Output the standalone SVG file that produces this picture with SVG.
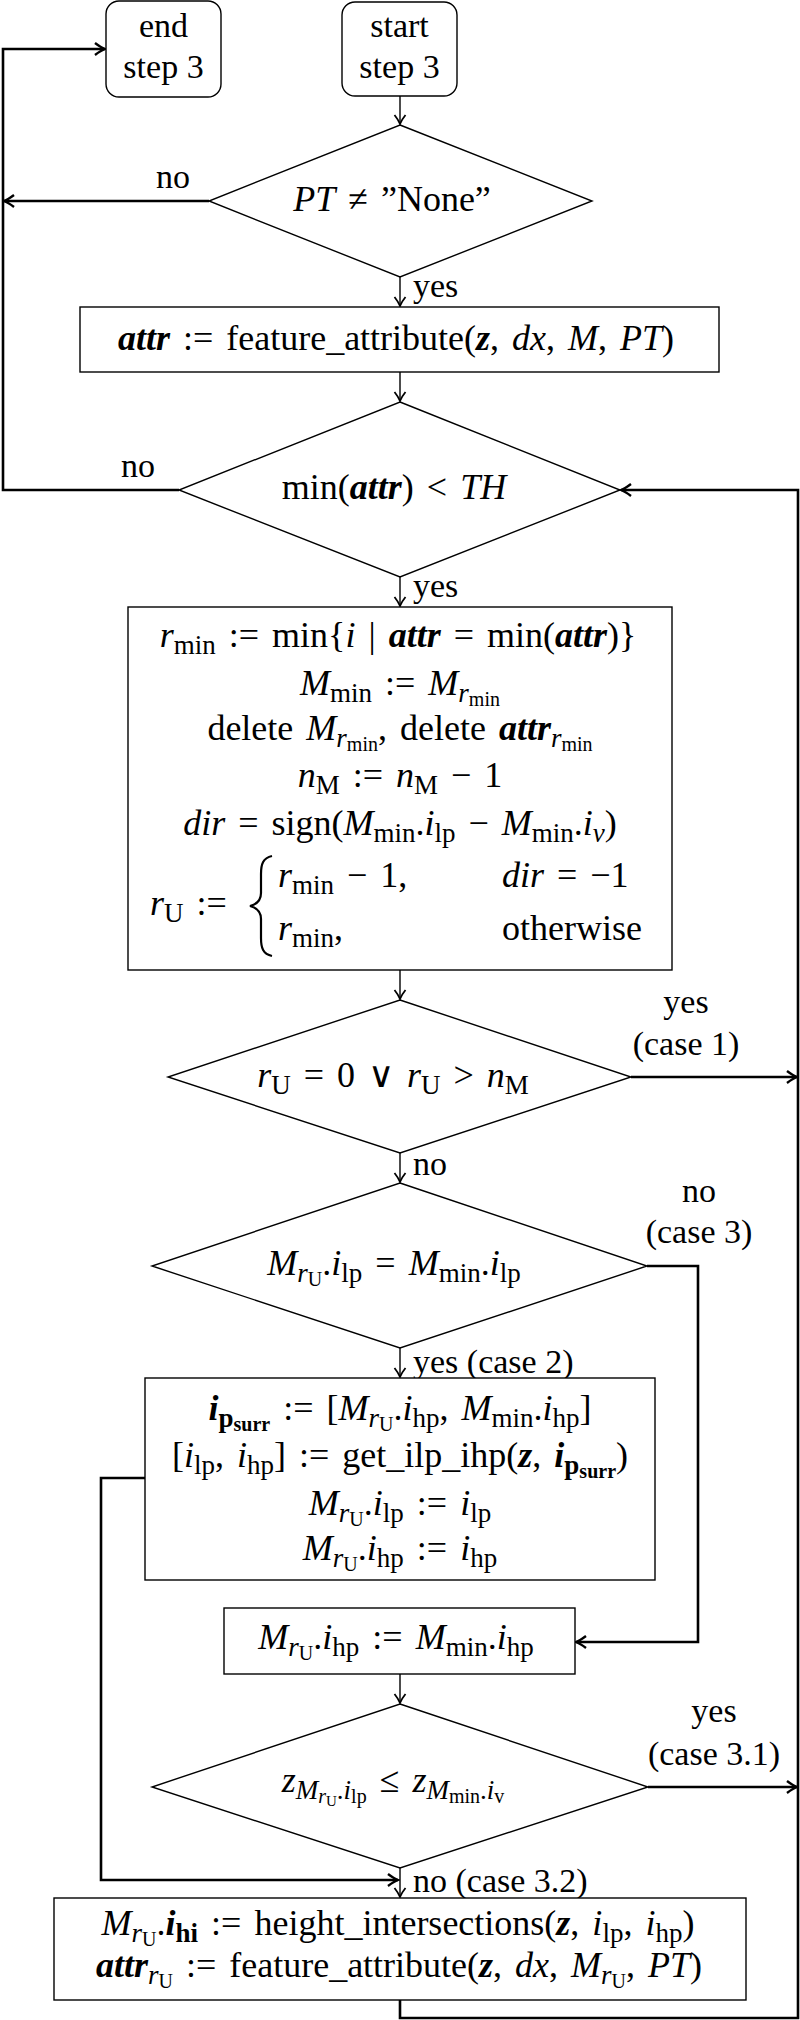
<svg xmlns="http://www.w3.org/2000/svg" width="800" height="2020" viewBox="0 0 800 2020">
<style>
.n{fill:#fff;stroke:#000;stroke-width:1.4}
.t{font-family:"Liberation Serif","Times New Roman",serif;font-size:36px;word-spacing:4px;fill:#000}
.l{font-family:"Liberation Serif","Times New Roman",serif;font-size:34px;fill:#000}
.m{text-anchor:middle}
.i{font-style:italic}
.b{font-style:italic;font-weight:bold}
.bu{font-weight:bold}
.s{font-size:27px}
.ss{font-size:20px}
.sss{font-size:15px}
.c{fill:none;stroke:#000;stroke-width:1.4}
.k{fill:none;stroke:#000;stroke-width:2.6}
.br{fill:none;stroke:#000;stroke-width:2.2}
</style>
<defs>
<marker id="a" viewBox="-12 -7 14 14" refX="0" refY="0" markerWidth="14" markerHeight="14" markerUnits="userSpaceOnUse" orient="auto">
<path d="M-9,-5.5 Q-4,-1.5 0,0 Q-4,1.5 -9,5.5" fill="none" stroke="#000" stroke-width="1.8"/>
</marker>
<marker id="ak" viewBox="-12 -7 14 14" refX="0" refY="0" markerWidth="14" markerHeight="14" markerUnits="userSpaceOnUse" orient="auto">
<path d="M-10,-6 Q-4,-1.5 0,0 Q-4,1.5 -10,6" fill="none" stroke="#000" stroke-width="2.4"/>
</marker>
</defs>
<rect width="800" height="2020" fill="#fff"/>

<g id="connectors">
<path class="c" d="M400,96 V124" marker-end="url(#a)"/>
<path class="c" d="M400,277 V306" marker-end="url(#a)"/>
<path class="c" d="M400,372 V401" marker-end="url(#a)"/>
<path class="c" d="M400,577 V606" marker-end="url(#a)"/>
<path class="c" d="M400,970 V999" marker-end="url(#a)"/>
<path class="c" d="M400,1153 V1182" marker-end="url(#a)"/>
<path class="c" d="M400,1348 V1377" marker-end="url(#a)"/>
<path class="c" d="M400,1674 V1703" marker-end="url(#a)"/>
<path class="c" d="M400,1868 V1897" marker-end="url(#a)"/>
<path class="k" d="M209,201 H4" marker-end="url(#ak)"/>
<path class="k" d="M179,490 H3 V49 H105" marker-end="url(#ak)"/>
<path class="k" d="M400,2000 V2018 H798 V490 H621" marker-end="url(#ak)"/>
<path class="k" d="M631,1077 H797" marker-end="url(#ak)"/>
<path class="k" d="M648,1787 H797" marker-end="url(#ak)"/>
<path class="k" d="M647,1266 H698 V1642 H576" marker-end="url(#ak)"/>
<path class="k" d="M145,1478 H101 V1880 H398" marker-end="url(#ak)"/>
<text class="l m" x="173" y="188">no</text>
<text class="l" x="413" y="297">yes</text>
<text class="l m" x="138" y="477">no</text>
<text class="l" x="413" y="597">yes</text>
<text class="l m" x="686" y="1013">yes</text>
<text class="l m" x="686" y="1055">(case 1)</text>
<text class="l" x="413" y="1175">no</text>
<text class="l m" x="699" y="1202">no</text>
<text class="l m" x="699" y="1243">(case 3)</text>
<text class="l" x="413" y="1373">yes (case 2)</text>
<text class="l m" x="714" y="1722">yes</text>
<text class="l m" x="714" y="1765">(case 3.1)</text>
<text class="l" x="413" y="1892">no (case 3.2)</text>
</g>

<g id="end">
<rect class="n" x="106" y="1" width="115" height="96" rx="13"/>
<text class="l m" x="163.5" y="37">end</text>
<text class="l m" x="163.5" y="78">step 3</text>
</g>

<g id="start">
<rect class="n" x="342" y="2" width="115" height="94" rx="13"/>
<text class="l m" x="399.5" y="37">start</text>
<text class="l m" x="399.5" y="78">step 3</text>
</g>

<g id="d1">
<polygon class="n" points="400,125 592,201 400,277 209,201"/>
<text class="t m" x="392" y="211"><tspan class="i">PT</tspan> ≠ ”None”</text>
</g>

<g id="b1">
<rect class="n" x="80" y="307" width="639" height="65"/>
<text class="t m" x="396" y="350"><tspan class="b">attr</tspan> := feature_attribute(<tspan class="b">z</tspan>, <tspan class="i">dx</tspan>, <tspan class="i">M</tspan>, <tspan class="i">PT</tspan>)</text>
</g>

<g id="d2">
<polygon class="n" points="400,402 620,490 400,577 179,490"/>
<text class="t m" x="394" y="499">min(<tspan class="b">attr</tspan>) &lt; <tspan class="i">TH</tspan></text>
</g>

<g id="b2">
<rect class="n" x="128" y="607" width="544" height="363"/>
<text class="t m" x="398" y="647"><tspan class="i">r</tspan><tspan class="s" dy="7">min</tspan><tspan dy="-7"> := min{</tspan><tspan class="i">i</tspan> | <tspan class="b">attr</tspan> = min(<tspan class="b">attr</tspan>)}</text>
<text class="t m" x="400" y="695"><tspan class="i">M</tspan><tspan class="s" dy="7">min</tspan><tspan dy="-7"> := </tspan><tspan class="i">M</tspan><tspan class="s i" dy="7">r</tspan><tspan class="ss" dy="4">min</tspan></text>
<text class="t m" x="400" y="740">delete <tspan class="i">M</tspan><tspan class="s i" dy="7">r</tspan><tspan class="ss" dy="4">min</tspan><tspan dy="-11">, delete </tspan><tspan class="b">attr</tspan><tspan class="s i" dy="7">r</tspan><tspan class="ss" dy="4">min</tspan></text>
<text class="t m" x="400" y="787"><tspan class="i">n</tspan><tspan class="s" dy="7">M</tspan><tspan dy="-7"> := </tspan><tspan class="i">n</tspan><tspan class="s" dy="7">M</tspan><tspan dy="-7"> − 1</tspan></text>
<text class="t m" x="400" y="835"><tspan class="i">dir</tspan> = sign(<tspan class="i">M</tspan><tspan class="s" dy="7">min</tspan><tspan dy="-7">.</tspan><tspan class="i">i</tspan><tspan class="s" dy="7">lp</tspan><tspan dy="-7"> − </tspan><tspan class="i">M</tspan><tspan class="s" dy="7">min</tspan><tspan dy="-7">.</tspan><tspan class="i">i</tspan><tspan class="s i" dy="7">v</tspan><tspan dy="-7">)</tspan></text>
<text class="t" x="150" y="915"><tspan class="i">r</tspan><tspan class="s" dy="7">U</tspan><tspan dy="-7"> :=</tspan></text>
<path class="br" d="M272,856 C263,858 261,864 261,874 L261,893 C261,900 258,904 250,906 C258,908 261,912 261,919 L261,938 C261,948 263,954 272,956"/>
<text class="t" x="278" y="887"><tspan class="i">r</tspan><tspan class="s" dy="7">min</tspan><tspan dy="-7"> − 1,</tspan></text>
<text class="t" x="502" y="887"><tspan class="i">dir</tspan> = −1</text>
<text class="t" x="278" y="940"><tspan class="i">r</tspan><tspan class="s" dy="7">min</tspan><tspan dy="-7">,</tspan></text>
<text class="t" x="502" y="940">otherwise</text>
</g>

<g id="d3">
<polygon class="n" points="400,1000 631,1077 400,1153 168,1077"/>
<text class="t m" x="393" y="1087"><tspan class="i">r</tspan><tspan class="s" dy="7">U</tspan><tspan dy="-7"> = 0 ∨ </tspan><tspan class="i">r</tspan><tspan class="s" dy="7">U</tspan><tspan dy="-7"> &gt; </tspan><tspan class="i">n</tspan><tspan class="s" dy="7">M</tspan></text>
</g>

<g id="d4">
<polygon class="n" points="400,1183 647,1266 400,1348 152,1266"/>
<text class="t m" x="394" y="1275"><tspan class="i">M</tspan><tspan class="s i" dy="7">r</tspan><tspan class="ss" dy="4">U</tspan><tspan dy="-11">.</tspan><tspan class="i">i</tspan><tspan class="s" dy="7">lp</tspan><tspan dy="-7"> = </tspan><tspan class="i">M</tspan><tspan class="s" dy="7">min</tspan><tspan dy="-7">.</tspan><tspan class="i">i</tspan><tspan class="s" dy="7">lp</tspan></text>
</g>

<g id="b3">
<rect class="n" x="145" y="1378" width="510" height="202"/>
<text class="t m" x="400" y="1420"><tspan class="b">i</tspan><tspan class="s bu" dy="7">p</tspan><tspan class="ss bu" dy="4">surr</tspan><tspan dy="-11"> := [</tspan><tspan class="i">M</tspan><tspan class="s i" dy="7">r</tspan><tspan class="ss" dy="4">U</tspan><tspan dy="-11">.</tspan><tspan class="i">i</tspan><tspan class="s" dy="7">hp</tspan><tspan dy="-7">, </tspan><tspan class="i">M</tspan><tspan class="s" dy="7">min</tspan><tspan dy="-7">.</tspan><tspan class="i">i</tspan><tspan class="s" dy="7">hp</tspan><tspan dy="-7">]</tspan></text>
<text class="t m" x="400" y="1467">[<tspan class="i">i</tspan><tspan class="s" dy="7">lp</tspan><tspan dy="-7">, </tspan><tspan class="i">i</tspan><tspan class="s" dy="7">hp</tspan><tspan dy="-7">] := get_ilp_ihp(</tspan><tspan class="b">z</tspan>, <tspan class="b">i</tspan><tspan class="s bu" dy="7">p</tspan><tspan class="ss bu" dy="4">surr</tspan><tspan dy="-11">)</tspan></text>
<text class="t m" x="400" y="1515"><tspan class="i">M</tspan><tspan class="s i" dy="7">r</tspan><tspan class="ss" dy="4">U</tspan><tspan dy="-11">.</tspan><tspan class="i">i</tspan><tspan class="s" dy="7">lp</tspan><tspan dy="-7"> := </tspan><tspan class="i">i</tspan><tspan class="s" dy="7">lp</tspan></text>
<text class="t m" x="400" y="1560"><tspan class="i">M</tspan><tspan class="s i" dy="7">r</tspan><tspan class="ss" dy="4">U</tspan><tspan dy="-11">.</tspan><tspan class="i">i</tspan><tspan class="s" dy="7">hp</tspan><tspan dy="-7"> := </tspan><tspan class="i">i</tspan><tspan class="s" dy="7">hp</tspan></text>
</g>

<g id="b4">
<rect class="n" x="224" y="1608" width="351" height="66"/>
<text class="t m" x="396" y="1649"><tspan class="i">M</tspan><tspan class="s i" dy="7">r</tspan><tspan class="ss" dy="4">U</tspan><tspan dy="-11">.</tspan><tspan class="i">i</tspan><tspan class="s" dy="7">hp</tspan><tspan dy="-7"> := </tspan><tspan class="i">M</tspan><tspan class="s" dy="7">min</tspan><tspan dy="-7">.</tspan><tspan class="i">i</tspan><tspan class="s" dy="7">hp</tspan></text>
</g>

<g id="d5">
<polygon class="n" points="400,1704 648,1787 400,1868 152,1787"/>
<text class="t m" x="393" y="1792"><tspan class="i">z</tspan><tspan class="s i" dy="7">M</tspan><tspan class="ss i" dy="4">r</tspan><tspan class="sss" dy="3">U</tspan><tspan class="s" dy="-7">.</tspan><tspan class="s i">i</tspan><tspan class="ss" dy="4">lp</tspan><tspan dy="-11"> ≤ </tspan><tspan class="i">z</tspan><tspan class="s i" dy="7">M</tspan><tspan class="ss" dy="4">min</tspan><tspan class="s" dy="-4">.</tspan><tspan class="s i">i</tspan><tspan class="ss" dy="4">v</tspan></text>
</g>

<g id="b5">
<rect class="n" x="54" y="1898" width="692" height="102"/>
<text class="t m" x="398" y="1935"><tspan class="i">M</tspan><tspan class="s i" dy="7">r</tspan><tspan class="ss" dy="4">U</tspan><tspan dy="-11">.</tspan><tspan class="b">i</tspan><tspan class="s bu" dy="7">hi</tspan><tspan dy="-7"> := height_intersections(</tspan><tspan class="b">z</tspan>, <tspan class="i">i</tspan><tspan class="s" dy="7">lp</tspan><tspan dy="-7">, </tspan><tspan class="i">i</tspan><tspan class="s" dy="7">hp</tspan><tspan dy="-7">)</tspan></text>
<text class="t m" x="399" y="1977"><tspan class="b">attr</tspan><tspan class="s i" dy="7">r</tspan><tspan class="ss" dy="4">U</tspan><tspan dy="-11"> := feature_attribute(</tspan><tspan class="b">z</tspan>, <tspan class="i">dx</tspan>, <tspan class="i">M</tspan><tspan class="s i" dy="7">r</tspan><tspan class="ss" dy="4">U</tspan><tspan dy="-11">, </tspan><tspan class="i">PT</tspan>)</text>
</g>
</svg>
